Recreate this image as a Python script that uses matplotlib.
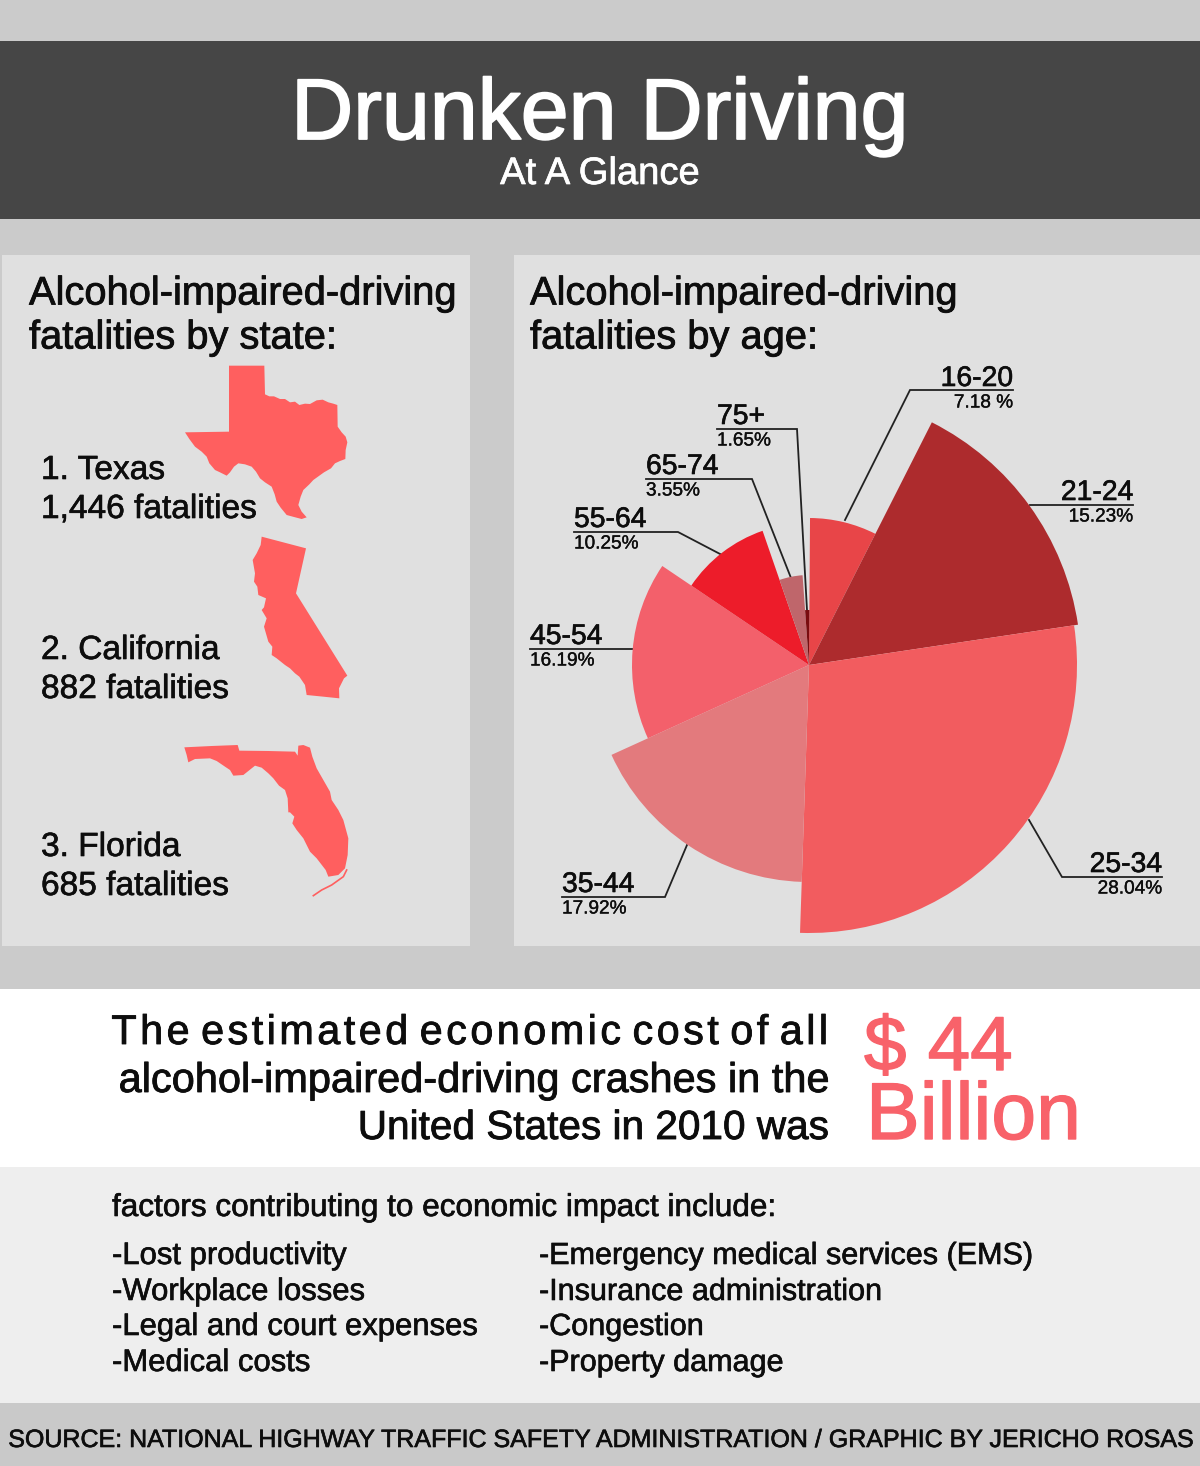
# Drunken driving infographic
import matplotlib
matplotlib.use('Agg')
import matplotlib.pyplot as plt
import matplotlib.patheffects as pe
import numpy as np

plt.rcParams['font.family'] = ['Liberation Sans', 'DejaVu Sans']

# Fatalities by age: share of the total sets the angle, radius is decorative
ageGroups = ['16-20', '21-24', '25-34', '35-44', '45-54', '55-64', '65-74', '75+']
ageShares = [7.18, 15.23, 28.04, 17.92, 16.19, 10.25, 3.55, 1.65]
ageShareLabels = ['7.18 %', '15.23%', '28.04%', '17.92%', '16.19%', '10.25%', '3.55%', '1.65%']
ageRadii = [147, 272, 268, 217, 177, 142, 90, 55]
ageColors = ['#e84548', '#ad2b2d', '#f25c5f', '#e37a7d', '#f3606b', '#ed1c2a', '#bf666b', '#7a0c10']
# The drawn slices are not quite proportional: small shift of each slice's end, degrees
edgeShift = [0.6, 0.4, -0.1, -1.0, -0.8, -0.8, 1.4, 0.0]

# Label position: anchor x, baseline of name, alignment
labelX = [1013, 1133, 1162, 562, 530, 574, 646, 717]
labelY = [386, 500, 872, 892, 644, 527, 474, 424]
labelAlign = ['right', 'right', 'right', 'left', 'left', 'left', 'left', 'left']

# Leader lines, in picture pixels
leaders = [
    [(1013, 390), (910, 390), (845, 520)],
    [(1133, 505), (1030, 505)],
    [(1162, 877), (1062, 877), (1029, 820)],
    [(562, 897), (665, 897), (687, 845)],
    [(530, 649), (634, 649)],
    [(574, 532), (678, 532), (722, 555)],
    [(646, 479), (752, 479), (791, 578)],
    [(717, 429), (797, 429), (807, 610)],
]

stateNames = ['1. Texas', '2. California', '3. Florida']
stateFatalities = ['1,446 fatalities', '882 fatalities', '685 fatalities']
stateBaselines = [479, 659, 856]

factorsLeft = ['-Lost productivity', '-Workplace losses', '-Legal and court expenses', '-Medical costs']
factorsRight = ['-Emergency medical services (EMS)', '-Insurance administration', '-Congestion', '-Property damage']
factorBaselines = [1264, 1300, 1335, 1371]

texas = ((170, 355), [(177,32),(283,32),(285,118),(298,124),(312,124),(330,132),(345,132),(360,142),(375,140),
    (388,150),(405,146),(420,147),(440,136),(458,134),(475,142),(490,146),(502,150),(503,215),(515,232),(527,245),
    (532,262),(527,285),(526,312),(510,318),(495,325),(483,340),(462,352),(430,375),(418,388),(400,405),(392,425),
    (385,450),(395,470),(410,487),(395,492),(372,486),(350,480),(332,458),(320,440),(314,418),(305,395),(285,382),
    (270,370),(258,350),(245,335),(225,328),(205,325),(192,335),(180,352),(170,362),(150,352),(135,345),(118,325),
    (110,305),(95,290),(75,275),(58,252),(45,232),(177,230)])
california = ((240, 530), [(65,20),(198,55),(168,190),(322,437),(312,445),(297,475),(298,505),(250,500),(200,495),
    (195,465),(178,440),(165,430),(150,415),(135,405),(110,385),(95,375),(97,350),(85,335),(72,290),(80,265),
    (65,240),(72,232),(78,205),(55,195),(52,170),(42,155),(45,130),(38,90),(50,70),(62,45)])
florida = ((175, 735), [(28,37),(110,33),(188,30),(193,47),(280,48),(360,50),(368,62),(370,32),(385,30),(405,38),
    (412,65),(425,100),(445,135),(465,170),(470,195),(490,225),(505,255),(520,310),(518,360),(510,400),(490,420),
    (460,425),(452,405),(425,370),(405,350),(395,330),(385,310),(365,285),(352,265),(358,245),(345,232),(340,232),
    (338,190),(330,165),(312,152),(295,130),(280,115),(260,98),(240,92),(220,108),(205,120),(175,122),(165,105),
    (150,95),(125,78),(105,70),(60,72),(40,82),(35,60)])
floridaKeys = ((175, 735), [(515,405),(505,425),(470,450),(440,465),(415,482)])

coral = '#ff5f5f'
moneyColor = '#f8626a'
ink = '#0d0d0d'


def label(x, y, text, size, color=ink, ha='left', stroke=0.45):
    # Reference type is a medium weight, thicken the regular face a little
    t = ax.text(x, y, text, color=color, fontsize=size, ha=ha, va='baseline')
    t.set_path_effects([pe.withStroke(linewidth=stroke, foreground=color)])
    return t


fig = plt.figure(figsize=(12, 14.66), dpi=100, facecolor='#cbcbcb')

# Background axes works in picture pixels, y going down
ax = fig.add_axes([0, 0, 1, 1])
ax.set_xlim(0, 1200)
ax.set_ylim(1466, 0)
ax.axis('off')

# Bands and panels: x, y, width, height, colour
for x, y, w, h, c in [(0, 41, 1200, 178, '#464646'),
                      (2, 255, 468, 691, '#e0e0e0'),
                      (514, 255, 686, 691, '#e0e0e0'),
                      (0, 989, 1200, 178, '#ffffff'),
                      (0, 1167, 1200, 236, '#eeeeee'),
                      (0, 1403, 1200, 63, '#c9c9c9')]:
    ax.add_patch(plt.Rectangle((x, y), w, h, facecolor=c, edgecolor='none'))

# Header
label(600, 139, 'Drunken Driving', 62, color='white', ha='center', stroke=1.3)
label(600, 184, 'At A Glance', 27.5, color='white', ha='center', stroke=0.5)

# Panel headings
for x, second in [(29, 'fatalities by state:'), (530, 'fatalities by age:')]:
    label(x, 304.5, 'Alcohol-impaired-driving', 28.7, stroke=0.6)
    label(x, 348.5, second, 28.7, stroke=0.6)

# States
for (x0, y0), pts in [texas, california, florida]:
    pts = np.array(pts) / 3.0 + [x0, y0]
    ax.fill(pts[:, 0], pts[:, 1], color=coral, linewidth=0)
keys = np.array(floridaKeys[1]) / 3.0 + floridaKeys[0]
ax.plot(keys[:, 0], keys[:, 1], color=coral, linewidth=1.2)

for i in range(3):
    label(41, stateBaselines[i], stateNames[i], 24.1)
    label(41, stateBaselines[i] + 39, stateFatalities[i], 24.1)

# Leader lines and age labels
for pts in leaders:
    pts = np.array(pts)
    ax.plot(pts[:, 0], pts[:, 1], color='#222222', linewidth=1.3, solid_joinstyle='miter')
for i in range(len(ageGroups)):
    label(labelX[i], labelY[i], ageGroups[i], 20.4, ha=labelAlign[i])
    label(labelX[i], labelY[i] + 21.5, ageShareLabels[i], 13.7, ha=labelAlign[i], stroke=0.25)

# Economic cost block
hair = '\u200a'
firstLine = ' '.join(hair.join(word) for word in 'The estimated economic cost of all'.split())
label(829, 1044, firstLine, 29.8, ha='right', stroke=0.6)
label(829, 1092, 'alcohol-impaired-driving crashes in the', 29.9, ha='right', stroke=0.6)
label(829, 1139, 'United States in 2010 was', 29.2, ha='right', stroke=0.6)
label(864, 1070, '$ 44', 55, color=moneyColor, stroke=1.0)
label(866, 1139, 'Billion', 58, color=moneyColor, stroke=1.0)

# Factors
label(112, 1216, 'factors contributing to economic impact include:', 22.7)
for i in range(4):
    label(112, factorBaselines[i], factorsLeft[i], 22.35)
    label(539, factorBaselines[i], factorsRight[i], 22.0)

# Footer
label(600, 1447, 'SOURCE: NATIONAL HIGHWAY TRAFFIC SAFETY ADMINISTRATION / GRAPHIC BY JERICHO ROSAS',
      18.0, ha='center')

# Pie with unequal radii, as a polar bar chart centred on (809, 665)
rMax = 300.0
polar = fig.add_axes([(809 - rMax) / 1200, (1466 - 665 - rMax) / 1466, 2 * rMax / 1200, 2 * rMax / 1466],
                     projection='polar')
polar.set_theta_zero_location('N')
polar.set_theta_direction(-1)
polar.set_ylim(0, rMax)
polar.axis('off')
polar.patch.set_alpha(0)

ends = 0.4 + np.cumsum(ageShares) * 3.6 + np.array(edgeShift)
starts = np.concatenate(([0.4], ends[:-1]))
polar.bar(np.radians(starts), ageRadii, width=np.radians(ends - starts), align='edge',
          color=ageColors, linewidth=0)

fig.savefig('out.png', dpi=100, facecolor=fig.get_facecolor())
